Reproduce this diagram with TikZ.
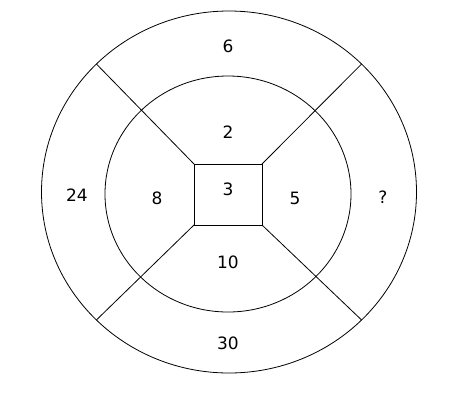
\documentclass[tikz,border=0pt]{standalone}
\usepackage{fontspec}
\setmainfont{DejaVu Sans}
\usetikzlibrary{shapes.geometric}
\begin{document}
\begin{tikzpicture}[x=1pt, y=-1pt, line width=0.8pt,
                    ringStyle/.style={ellipse, draw, inner sep=0pt, outer sep=0pt},
                    numStyle/.style={font=\fontsize{17}{20}\selectfont, inner sep=1pt}]
                    \useasboundingbox (0, 0) rectangle (450, 400);
                    \node[ringStyle, minimum width=375pt, minimum height=362pt](outer) at (229, 192) {};
                    \node[ringStyle, minimum width=246pt, minimum height=236pt](inner) at (228, 194) {};
                    \node[draw, minimum width=68pt, minimum height=61pt, inner sep=0pt, outer sep=0pt](sq) at (228, 194.5) {};

                    \draw (sq.north west) -- (outer.north west);
                    \draw (sq.north east) -- (outer.north east);
                    \draw (sq.south west) -- (outer.south west);
                    \draw (sq.south east) -- (outer.south east);

                    \node[numStyle](top) at (228, 46) {6};
                    \node[numStyle](mid) at (228, 132) {2};
                    \node[numStyle](ctr) at (228, 189) {3};
                    \node[numStyle](left) at (77, 195) {24};
                    \node[numStyle](midleft) at (157, 198) {8};
                    \node[numStyle](midright) at (295, 198) {5};
                    \node[numStyle](right) at (383, 197) {?};
                    \node[numStyle](low) at (228, 262) {10};
                    \node[numStyle](bottom) at (228, 343) {30};
                \end{tikzpicture}
\end{document}
